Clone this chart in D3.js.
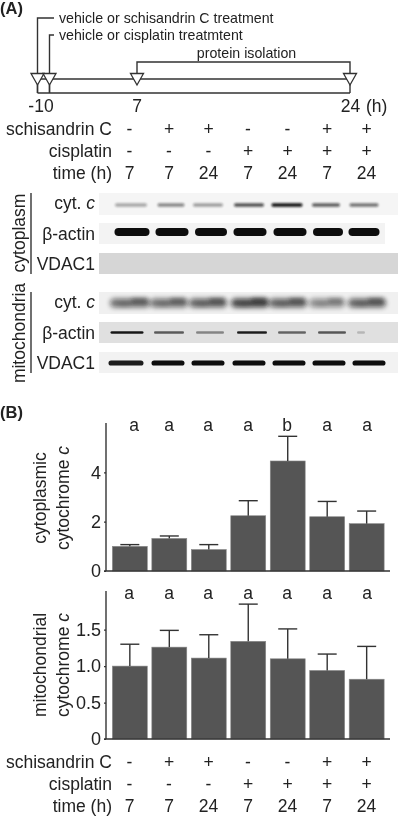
<!DOCTYPE html>
<html><head><meta charset="utf-8">
<script src="https://cdnjs.cloudflare.com/ajax/libs/d3/7.8.5/d3.min.js"></script>
<style>html,body{margin:0;padding:0;background:#fff}svg{display:block}text{font-family:"Liberation Sans",Arial,sans-serif;fill:#222}</style>
</head><body><div id="c"></div>
<script>
const groups = ["1","2","3","4","5","6","7"];
const schisandrin = ["-","+","+","-","-","+","+"];
const cisplatin = ["-","-","-","+","+","+","+"];
const times = ["7","7","24","7","24","7","24"];
const cytoValues = [1.0,1.32,0.87,2.24,4.46,2.2,1.92];
const cytoUpper = [1.07,1.42,1.07,2.85,5.46,2.82,2.43];
const cytoLetters = ["a","a","a","a","b","a","a"];
const cytoTicks = [0,2,4];
const mitoValues = [1.0,1.26,1.11,1.34,1.10,0.94,0.82];
const mitoUpper = [1.30,1.49,1.43,1.85,1.51,1.165,1.27];
const mitoLetters = ["a","a","a","a","a","a","a"];
const mitoTicks = [0,0.5,1.0,1.5];
const blotCytC = [0.28,0.42,0.32,0.68,1,0.62,0.52];
const blotActin = [1,1,1,1,1,1,1];
const blotMitoCytC = [0.62,0.6,0.68,0.85,0.68,0.45,0.68];
const blotMitoActin = [0.95,0.6,0.38,0.9,0.55,0.62,0.12];
const blotMitoVdac = [0.92,1,1,1,1,1,1];
const laneCytC = [131,171,208,249,287,326,364];
const laneActin = [132,172,211,250,290,328,364];
const laneMitoCytC = [130,169,208,250,288,327,367];
const laneMitoActin = [127,169,210,252,292,332,361];
const laneMitoVdac = [126,168,208,249,289,329,369];
const widthCytC = [32,27,30,30,31,28,29];
const widthActin = [35,33,32,33,33,30,31];
const widthMitoCytC = [40,38,38,38,38,36,38];
const widthMitoActin = [33,30,28,30,28,28,8];
const widthMitoVdac = [35,33,33,33,33,33,33];
const timePoints = [-10,0,7,24];

const svg = d3.select("#c").append("svg").attr("width",400).attr("height",816);
const defs = svg.append("defs");
[["b05",0.7],["b1",1.1],["b2",2.0],["b3",2.6],["s",0.4]].forEach(([id,s])=>{
  defs.append("filter").attr("id",id).attr("x","-30%").attr("y","-150%").attr("width","160%").attr("height","400%")
    .append("feGaussianBlur").attr("stdDeviation",s);
});
const root = svg.append("g").attr("filter","url(#s)");
const FS = 17.5;
const txt=(x,y,s,o={})=>root.append("text").attr("x",x).attr("y",y).attr("font-size",o.fs||FS)
  .attr("text-anchor",o.a||"middle").attr("dominant-baseline","central").text(s);

root.append("text").attr("x",0).attr("y",14).attr("font-size",16.5).attr("font-weight","bold").text("(A)");
root.append("text").attr("x",0).attr("y",418).attr("font-size",16.5).attr("font-weight","bold").text("(B)");

// Timeline
const tx = d3.scaleLinear().domain(timePoints).range([37.5,49.5,137,350]);
const line=(pts,w=1.4)=>root.append("path").attr("d",d3.line()(pts)).attr("fill","none").attr("stroke","#333").attr("stroke-width",w);
line([[tx(-10),93],[tx(24),93]]);
line([[tx(-10),79],[tx(24),79]]);
line([[tx(-10),93],[tx(-10),18],[54,18]]);
line([[tx(0),93],[tx(0),35],[54,35]]);
line([[tx(7),73],[tx(7),62],[tx(24),62],[tx(24),73]]);
line([[tx(24),84],[tx(24),93]]);
root.selectAll(".tri").data(timePoints).enter().append("path")
  .attr("d",d=>{const x=tx(d);return `M${x-6.5},73.5L${x+6.5},73.5L${x},85Z`;})
  .attr("fill","#fff").attr("stroke","#333").attr("stroke-width",1.3);
line([[tx(-10),85],[tx(-10),93]]);
line([[tx(0),85],[tx(0),93]]);
txt(59,17.5,"vehicle or schisandrin C treatment",{a:"start",fs:14.2});
txt(59,35,"vehicle or cisplatin treatmtent",{a:"start",fs:14.2});
txt(246.5,52.5,"protein isolation",{fs:14.2});
txt(41,106,"-10");
txt(137,106,"7");
txt(350.5,106,"24");
txt(366,106,"(h)",{a:"start"});

// Condition tables
const col = d3.scalePoint().domain(groups).range([129.5,366.5]);
function table(y0){
  [["schisandrin C",schisandrin],["cisplatin",cisplatin],["time (h)",times]].forEach(([lab,vals],i)=>{
    const y=y0+i*22;
    txt(112,y,lab,{a:"end"});
    root.selectAll(null).data(vals).enter().append("text")
      .attr("x",(d,j)=>col(groups[j])).attr("y",y).attr("font-size",FS).attr("text-anchor","middle")
      .attr("dominant-baseline","central").text(d=>d);
  });
}
table(129); table(762);

// Blots
const panels=[
 {y:193,h:22,x1:398,bg:"#f5f5f5",vals:blotCytC,lanes:laneCytC,ws:widthCytC,by:205,bh:3.4,blur:"b1",lab:"cyt. c",it:true},
 {y:223,h:21,x1:385,bg:"#f3f3f3",vals:blotActin,lanes:laneActin,ws:widthActin,by:232,bh:8,blur:"b05",lab:"β-actin"},
 {y:253,h:21,x1:398,bg:"#d6d6d6",vals:[],lanes:[],ws:[],lab:"VDAC1"},
 {y:292,h:22,x1:398,bg:"#f0f0f0",vals:blotMitoCytC,lanes:laneMitoCytC,ws:widthMitoCytC,by:303,bh:9,blur:"b3",lab:"cyt. c",it:true,wavy:true},
 {y:322,h:21,x1:398,bg:"#e0e0e0",vals:blotMitoActin,lanes:laneMitoActin,ws:widthMitoActin,by:332.5,bh:2.6,blur:"b05",lab:"β-actin"},
 {y:352,h:21,x1:398,bg:"#f2f2f2",vals:blotMitoVdac,lanes:laneMitoVdac,ws:widthMitoVdac,by:363,bh:5.2,blur:"b05",lab:"VDAC1"}
];
const shade=d3.scaleLinear().domain([0,1]).range([0.08,1]);
panels.forEach(p=>{
  root.append("rect").attr("x",99).attr("y",p.y).attr("width",p.x1-99).attr("height",p.h).attr("fill",p.bg);
  const g=root.append("g");
  g.selectAll(".band").data(p.vals).enter().append("rect")
    .attr("x",(d,i)=>p.lanes[i]-p.ws[i]/2).attr("y",p.by-p.bh/2)
    .attr("width",(d,i)=>p.ws[i]).attr("height",p.bh).attr("rx",p.bh/2)
    .attr("fill","#0c0c0c").attr("opacity",d=>p.wavy?shade(d)*0.85:shade(d)).attr("filter",`url(#${p.blur})`);
  if(p.wavy){
    g.selectAll(".hump").data(p.vals).enter().append("rect")
      .attr("x",(d,i)=>p.lanes[i]+1).attr("y",p.by-4.5)
      .attr("width",(d,i)=>p.ws[i]*0.42).attr("height",4.5).attr("rx",2.2)
      .attr("fill","#222").attr("opacity",d=>shade(d)*0.75).attr("filter","url(#b2)");
    g.selectAll(".hump2").data(p.vals).enter().append("rect")
      .attr("x",(d,i)=>p.lanes[i]-p.ws[i]*0.3).attr("y",p.by-1)
      .attr("width",(d,i)=>p.ws[i]*0.3).attr("height",4).attr("rx",2)
      .attr("fill","#333").attr("opacity",d=>shade(d)*0.4).attr("filter","url(#b2)");
  }
  const t=root.append("text").attr("x",95).attr("y",p.y+p.h/2-(p.lab==="cyt. c"?1:0)).attr("font-size",FS)
    .attr("text-anchor","end").attr("dominant-baseline","central");
  if(p.it){t.append("tspan").text("cyt. ");t.append("tspan").attr("font-style","italic").text("c");}
  else t.text(p.lab);
});
line([[31,193],[31,274]]);
line([[31,292],[31,373]]);
const rot=(x,y)=>root.append("text").attr("transform",`translate(${x},${y}) rotate(-90)`).attr("font-size",FS)
  .attr("text-anchor","middle").attr("dominant-baseline","central");
rot(18.5,233).text("cytoplasm");
rot(18.5,333).text("mitochondria");

// Bar charts
const xBand = d3.scaleBand().domain(groups).range([110,386.5]).paddingInner(0.115).paddingOuter(0.06);
function chart({y,ticks,fmt,vals,upper,letters,letterY,letterX,lab1,labY}){
  const g=root.append("g");
  g.selectAll(".bar").data(vals).enter().append("rect")
    .attr("x",(d,i)=>xBand(groups[i])).attr("y",d=>y(d)).attr("width",xBand.bandwidth())
    .attr("height",d=>y(0)-y(d)).attr("fill","#555").attr("stroke","#8a8a8a").attr("stroke-width",0.6);
  upper.forEach((u,i)=>{
    const c=xBand(groups[i])+xBand.bandwidth()/2;
    line([[c,y(vals[i])],[c,y(u)]],1.4);
    line([[c-9.5,y(u)],[c+9.5,y(u)]],1.4);
  });
  const ax=d3.axisLeft(y).tickValues(ticks).tickFormat(fmt).tickSize(2).tickPadding(3);
  const a=g.append("g").attr("transform","translate(106,0)").call(ax);
  a.select(".domain").attr("stroke","#333").attr("stroke-width",1.4).attr("d",`M0,${y.range()[1]}V${y(0)}`);
  a.selectAll(".tick line").attr("stroke","#333").attr("stroke-width",1.2);
  a.selectAll(".tick text").attr("font-size",18).attr("font-family",'"Liberation Sans",Arial,sans-serif').attr("fill","#222");
  line([[104,y(0)],[390,y(0)]],1.4);
  letters.forEach((l,i)=>txt(letterX[i],letterY,l));
  rot(40,labY).text(lab1);
  const t=rot(63,labY);
  t.append("tspan").text("cytochrome ");
  t.append("tspan").attr("font-style","italic").text("c");
}
chart({y:d3.scaleLinear().domain([0,6]).range([571,423]),ticks:cytoTicks,fmt:d3.format("d"),vals:cytoValues,upper:cytoUpper,
  letters:cytoLetters,letterY:424.5,letterX:[134,169,208,248,287,327,367],lab1:"cytoplasmic",labY:498});
chart({y:d3.scaleLinear().domain([0,2.03]).range([739,591]),ticks:mitoTicks,fmt:d=>d===0?"0":d3.format(".1f")(d),vals:mitoValues,upper:mitoUpper,
  letters:mitoLetters,letterY:593,letterX:[129,169,208,248,287,327,367],lab1:"mitochondrial",labY:665});
</script></body></html>
